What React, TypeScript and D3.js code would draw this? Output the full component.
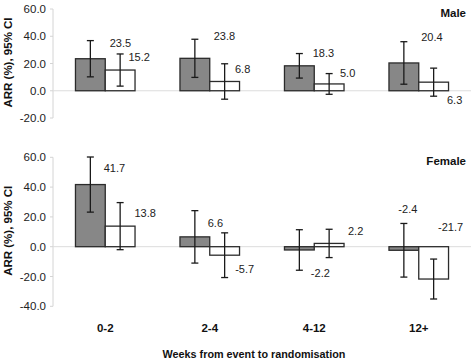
import React from 'react';
import * as d3 from 'd3';

// categories on the x axis
const weeks = ['0-2', '2-4', '4-12', '12+'];

// ARR (%) with 95% CI, first bar (grey) and second bar (white)
const maleGrey = [23.5, 23.8, 18.3, 20.4];
const maleGreyLo = [10.2, 9.8, 9.3, 4.8];
const maleGreyHi = [36.8, 37.8, 27.3, 36.0];
const maleWhite = [15.2, 6.8, 5.0, 6.3];
const maleWhiteLo = [3.4, -6.2, -2.6, -4.0];
const maleWhiteHi = [27.0, 19.8, 12.6, 16.6];

const femaleGrey = [41.7, 6.6, -2.2, -2.4];
const femaleGreyLo = [23.2, -11.0, -15.8, -20.4];
const femaleGreyHi = [60.2, 24.2, 11.4, 15.6];
const femaleWhite = [13.8, -5.7, 2.2, -21.7];
const femaleWhiteLo = [-2.0, -20.7, -7.3, -35.1];
const femaleWhiteHi = [29.6, 9.3, 11.7, -8.3];

const maleTicks = [60, 40, 20, 0, -20];
const femaleTicks = [60, 40, 20, 0, -20, -40];

// where the value labels sit (hand placed in the original): pairs of [dx from bar centre px, level in data units]
const maleGreyLab = [30, 35, 29.5, 40, 24, 27.6, 28, 39];
const maleWhiteLab = [19, 24.4, 18, 16, 18.5, 13, 21, -7];
const femaleGreyLab = [24, 52.7, 20.5, 16, 21, -18, 4, 25];
const femaleWhiteLab = [25, 22.6, 20, -15, 26.5, 10.5, 17, 13];

const W = 474;
const H = 361;
const left = 53;
const right = 471;
const font = 'Liberation Sans, Arial, sans-serif';

function pairs(a) {
  const out = [];
  for (let i = 0; i < a.length; i += 2) out.push([a[i], a[i + 1]]);
  return out;
}

function Panel({ title, top, bottom, domain, ticks, grey, greyLo, greyHi, white, whiteLo, whiteHi, greyLab, whiteLab }) {
  const x = d3.scaleBand().domain(weeks).range([left, right]).paddingInner(0.43).paddingOuter(0.215);
  const y = d3.scaleLinear().domain(domain).range([bottom, top]);
  const bw = x.bandwidth() / 2;
  const gl = pairs(greyLab);
  const wl = pairs(whiteLab);

  const bar = (v, i, k) => {
    const x0 = x(weeks[i]) + k * bw;
    return (
      <rect key={'b' + k + i} x={x0} width={bw} y={y(Math.max(0, v))}
        height={Math.abs(y(v) - y(0))}
        fill={k === 0 ? '#878787' : '#fff'} stroke="#2b2b2b" strokeWidth={1.3} />
    );
  };
  const err = (lo, hi, i, k) => {
    const cx = x(weeks[i]) + k * bw + bw / 2;
    return (
      <g key={'e' + k + i} stroke="#1a1a1a" strokeWidth={1.3}>
        <line x1={cx} x2={cx} y1={y(lo)} y2={y(hi)} />
        <line x1={cx - 3.5} x2={cx + 3.5} y1={y(lo)} y2={y(lo)} />
        <line x1={cx - 3.5} x2={cx + 3.5} y1={y(hi)} y2={y(hi)} />
      </g>
    );
  };
  const label = (v, lab, i, k) => {
    const cx = x(weeks[i]) + k * bw + bw / 2;
    return (
      <text key={'l' + k + i} x={cx + lab[0]} y={y(lab[1])} dy="0.35em" textAnchor="middle"
        fontSize={11} fill="#222">{v.toFixed(1)}</text>
    );
  };

  return (
    <g fontFamily={font}>
      <line x1={left} x2={left} y1={y(domain[1])} y2={y(domain[0])} stroke="#d4d4d4" />
      {ticks.map(t => (
        <g key={t}>
          <line x1={left - 3} x2={left} y1={y(t)} y2={y(t)} stroke="#d4d4d4" />
          <text x={left - 7} y={y(t)} dy="0.35em" textAnchor="end" fontSize={11.5} fill="#222">{t.toFixed(1)}</text>
        </g>
      ))}
      <line x1={left} x2={right} y1={y(0)} y2={y(0)} stroke="#dcdcdc" />
      {grey.map((v, i) => bar(v, i, 0))}
      {white.map((v, i) => bar(v, i, 1))}
      {grey.map((v, i) => err(greyLo[i], greyHi[i], i, 0))}
      {white.map((v, i) => err(whiteLo[i], whiteHi[i], i, 1))}
      {grey.map((v, i) => label(v, gl[i], i, 0))}
      {white.map((v, i) => label(v, wl[i], i, 1))}
      <text x={466} y={top + 4} dy="0.35em" textAnchor="end" fontSize={11.5} fontWeight="bold" fill="#111">{title}</text>
      <text transform={`translate(12,${(top + bottom) / 2 - 1}) rotate(-90)`} textAnchor="middle"
        fontSize={11.5} fontWeight="bold" fill="#111">ARR (%), 95% CI</text>
    </g>
  );
}

export default function App() {
  const x = d3.scaleBand().domain(weeks).range([left, right]).paddingInner(0.43).paddingOuter(0.215);
  return (
    <svg width={W} height={H} style={{ position: 'absolute', left: 0, top: 0, background: '#fff' }}>
      <Panel title="Male" top={9} bottom={118} domain={[-20, 60]} ticks={maleTicks}
        grey={maleGrey} greyLo={maleGreyLo} greyHi={maleGreyHi}
        white={maleWhite} whiteLo={maleWhiteLo} whiteHi={maleWhiteHi}
        greyLab={maleGreyLab} whiteLab={maleWhiteLab} />
      <Panel title="Female" top={157.3} bottom={306.3} domain={[-40, 60]} ticks={femaleTicks}
        grey={femaleGrey} greyLo={femaleGreyLo} greyHi={femaleGreyHi}
        white={femaleWhite} whiteLo={femaleWhiteLo} whiteHi={femaleWhiteHi}
        greyLab={femaleGreyLab} whiteLab={femaleWhiteLab} />
      <g fontFamily={font} fontWeight="bold" fill="#111">
        {weeks.map(w => (
          <text key={w} x={x(w) + x.bandwidth() / 2} y={328} dy="0.35em" textAnchor="middle" fontSize={11.5}>{w}</text>
        ))}
        <text x={254} y={354} dy="0.35em" textAnchor="middle" fontSize={10.8}>Weeks from event to randomisation</text>
      </g>
    </svg>
  );
}
